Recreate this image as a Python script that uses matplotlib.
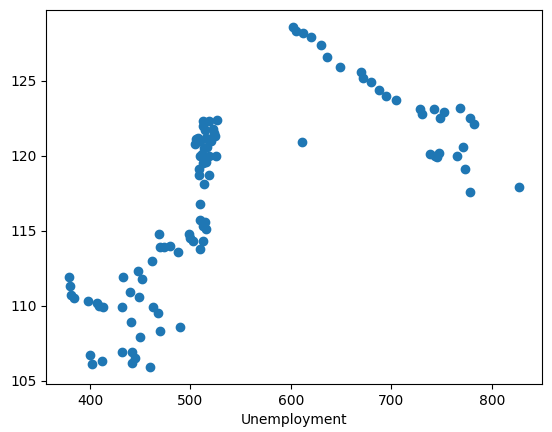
import matplotlib.pyplot as plt

unemployment = [379, 380, 381, 384, 398, 407, 409, 413, 432, 433, 448, 452, 440, 449,
                463, 468, 441, 450, 470, 490, 400, 402, 412, 432, 442, 445, 442, 460,
                462, 470, 474, 480, 488, 469, 499, 500, 503, 510, 512, 510, 514, 515,
                512, 510, 513, 518, 509, 509, 512, 515, 518, 525, 510, 505, 506, 510,
                515, 519, 523, 522, 524, 516, 512, 512, 518, 526, 511, 513, 508, 514, 520,
                602, 605, 612, 620, 630, 636, 649, 670, 672, 680, 688, 695, 705, 728,
                730, 742, 748, 752, 768, 778, 782, 611, 738, 743, 745, 747, 765, 771,
                773, 778, 827]
values = [111.9, 111.3, 110.7, 110.5, 110.3, 110.2, 110.0, 109.9, 109.9, 111.9, 112.3,
          111.8, 110.9, 110.6, 109.9, 109.5, 108.9, 107.9, 108.3, 108.6, 106.7, 106.1,
          106.3, 106.9, 106.9, 106.5, 106.2, 105.9,
          113.0, 113.9, 113.9, 114.0, 113.6, 114.8, 114.8, 114.5, 114.3, 113.8, 114.3,
          115.7, 115.6, 115.1, 115.3, 116.8, 118.1, 118.7, 118.7, 119.1, 119.5, 119.6,
          120.0, 120.0, 120.0, 120.8, 121.1, 121.0, 121.2, 121.1, 121.5, 121.8, 121.3,
          120.6, 122.0, 122.3, 122.3, 122.4, 120.1, 120.5, 121.2, 121.7, 121.0,
          128.6, 128.3, 128.2, 127.9, 127.4, 126.6, 125.9, 125.6, 125.2, 124.9, 124.4,
          124.0, 123.7, 123.1, 122.8, 123.1, 122.5, 122.9, 123.2, 122.5, 122.1, 120.9,
          120.1, 120.0, 119.9, 120.2, 120.0, 120.6, 119.1, 117.6, 117.9]

fig, ax = plt.subplots(figsize=(5.52, 4.32), dpi=100)
ax.scatter(unemployment, values)
ax.set_xlabel('Unemployment')
fig.subplots_adjust(left=0.084, right=0.981, top=0.978, bottom=0.111)
fig.savefig('out.png')
